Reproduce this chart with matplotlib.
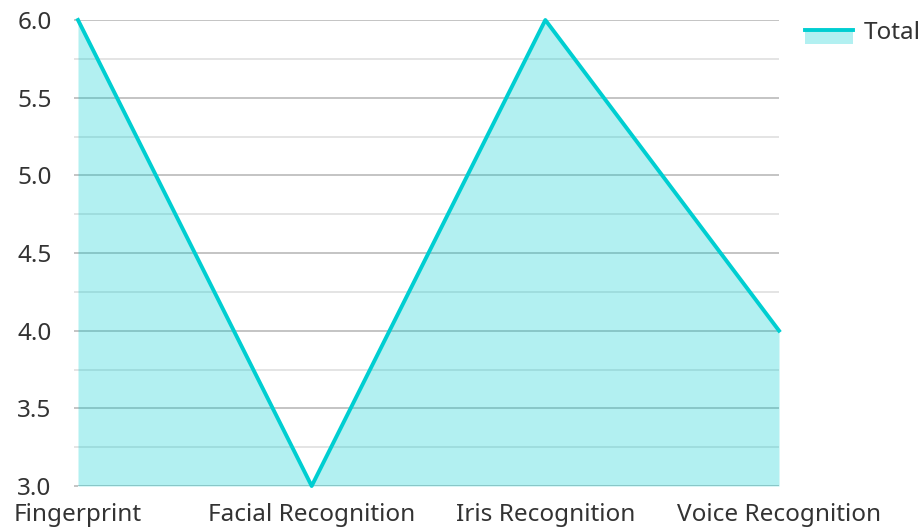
import matplotlib
matplotlib.use("Agg")
import matplotlib.pyplot as plt
from matplotlib.lines import Line2D
from matplotlib.patches import Rectangle
from matplotlib.ticker import MultipleLocator
from matplotlib.legend_handler import HandlerBase

categories = ["Fingerprint", "Facial Recognition", "Iris Recognition", "Voice Recognition"]
total = [6.0, 3.0, 6.0, 4.0]
series_name = "Total"

plt.rcParams['font.family'] = ['Noto Sans', 'DejaVu Sans']
color = "#00CED1"

fig = plt.figure(figsize=(9.2, 5.28), dpi=100)
ax = fig.add_axes([78/920, 1-486/528, (779-78)/920, (486-20)/528])

x = list(range(len(categories)))
ax.fill_between(x, total, 3.0, color=color, alpha=0.3, linewidth=0, zorder=2)
ax.plot(x, total, color=color, linewidth=2.8, zorder=3, clip_on=False)

ax.set_xlim(0, len(categories)-1)
ax.set_ylim(3.0, 6.0)
ax.yaxis.set_minor_locator(MultipleLocator(0.25))
ax.set_yticks([3.0, 3.5, 4.0, 4.5, 5.0, 5.5, 6.0])
ax.set_yticklabels(["3.0", "3.5", "4.0", "4.5", "5.0", "5.5", "6.0"])
ax.set_xticks(x)
ax.set_xticklabels(categories)
ax.grid(axis='y', which='major', color='#c4c4c4', linewidth=1.4, zorder=1)
ax.grid(axis='y', which='minor', color='#e4e4e4', linewidth=1.4, zorder=1)
ax.set_axisbelow(True)
for s in ax.spines.values():
    s.set_visible(False)
ax.tick_params(axis='y', which='major', length=3, width=1.4, color='#c4c4c4', labelsize=17.5, labelcolor='#333333', pad=16)
ax.tick_params(axis='y', which='minor', length=3, width=1.4, color='#e4e4e4', labelleft=False)
ax.tick_params(axis='x', length=0, labelsize=17.5, labelcolor='#333333', pad=12)


class AreaHandler(HandlerBase):
    def create_artists(self, legend, orig_handle, xdescent, ydescent, width, height, fontsize, trans):
        rect = Rectangle((-xdescent, -ydescent - 0.3*height), width, height*0.85,
                         facecolor=color, alpha=0.3, edgecolor='none', transform=trans)
        line = Line2D([-xdescent, -xdescent + width], [-ydescent + 0.55*height]*2,
                      color=color, linewidth=2.8, transform=trans)
        return [rect, line]


handle = Line2D([], [], color=color)
leg = fig.legend([handle], [series_name], loc='upper left', bbox_to_anchor=(805/920, 1-21/528),
                 frameon=False, fontsize=17.5, handlelength=1.97, handletextpad=0.45,
                 labelcolor='#333333', handler_map={Line2D: AreaHandler()}, borderaxespad=0,
                 borderpad=0)

fig.savefig("out.png", dpi=100)
